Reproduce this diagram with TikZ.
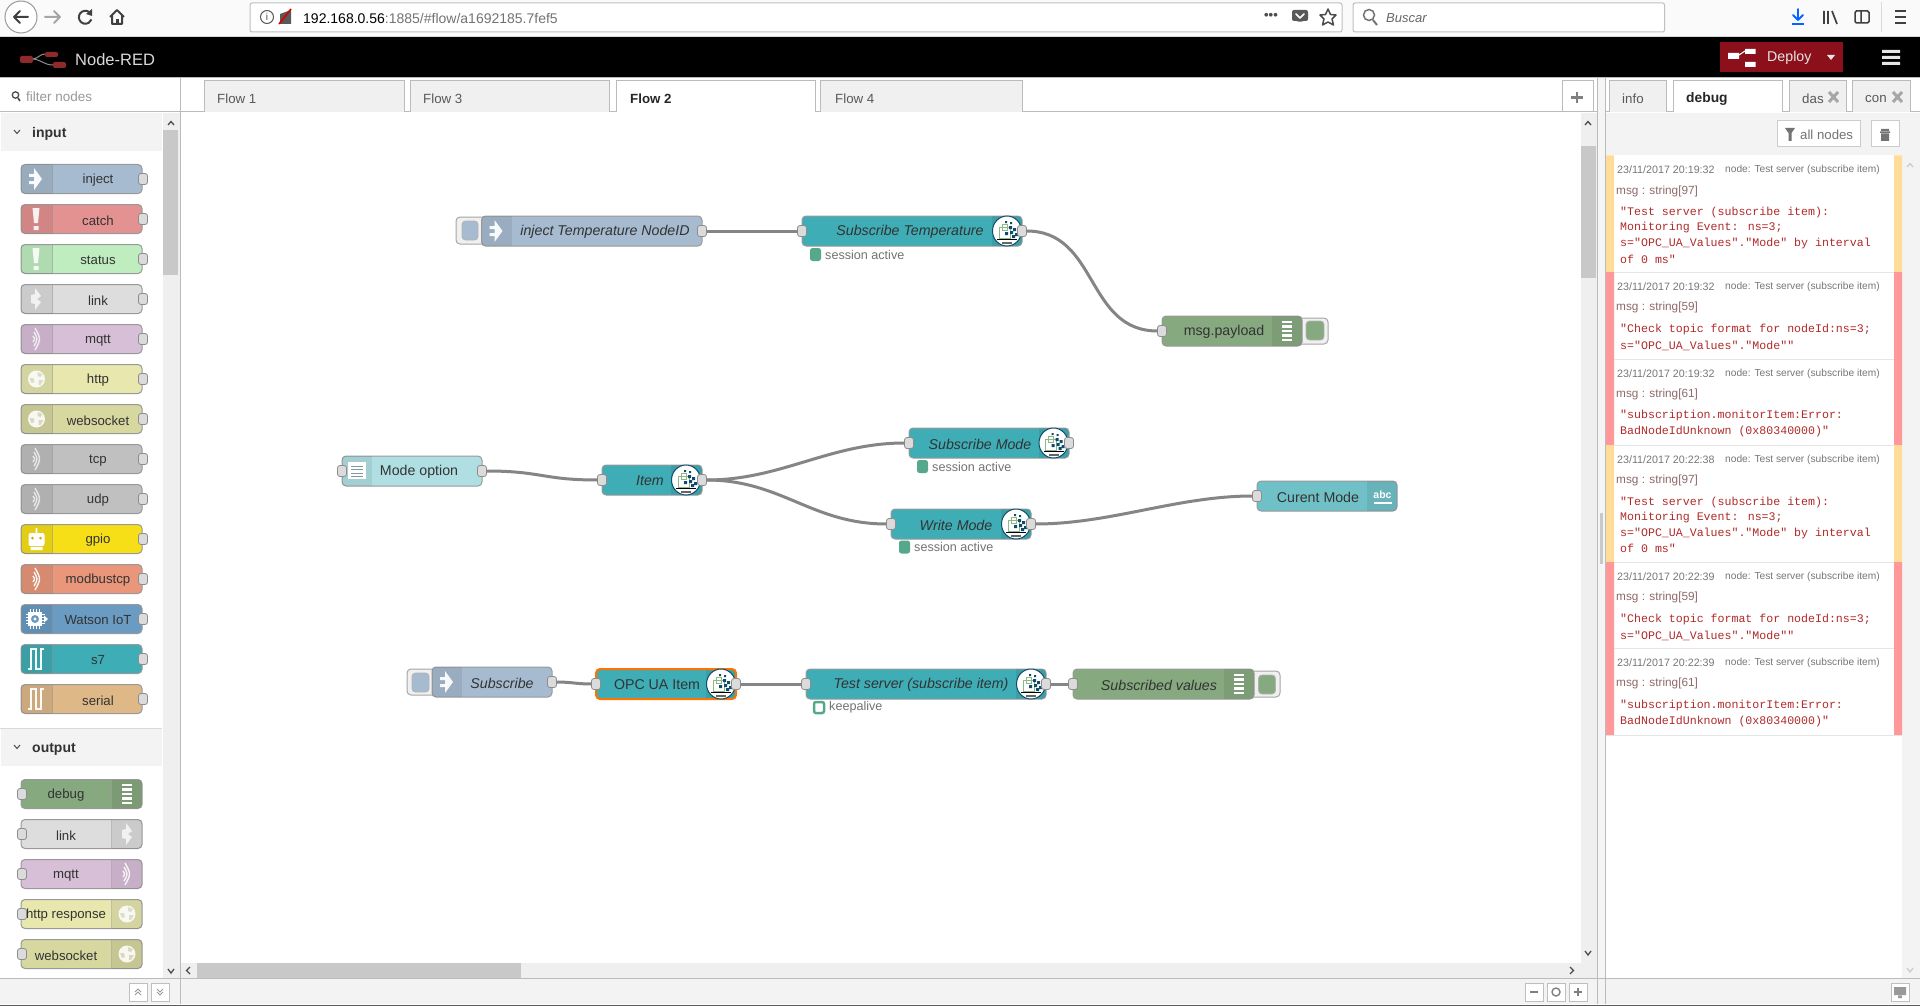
\documentclass[tikz,border=0pt]{standalone}
\usepackage{fontspec}
\setmainfont{Liberation Sans}
\newfontfamily\monof{Liberation Mono}
\usetikzlibrary{calc}
\definecolor{cInject}{HTML}{A6BBCF}
\definecolor{cCatch}{HTML}{E49191}
\definecolor{cStatus}{HTML}{C0EDC0}
\definecolor{cLink}{HTML}{DDDDDD}
\definecolor{cMqtt}{HTML}{D8BFD8}
\definecolor{cHttp}{HTML}{E7E7AE}
\definecolor{cWs}{HTML}{D7D7A0}
\definecolor{cTcp}{HTML}{C0C0C0}
\definecolor{cGpio}{HTML}{F7DF17}
\definecolor{cModbus}{HTML}{E9967A}
\definecolor{cWatson}{HTML}{6A9BC3}
\definecolor{cS}{HTML}{3FADB5}
\definecolor{cSerial}{HTML}{DEB887}
\definecolor{cDebug}{HTML}{87A980}
\definecolor{cTpl}{HTML}{B0DFE3}
\definecolor{cText}{HTML}{70C0C8}
\definecolor{cBar}{HTML}{F3F3F3}
\definecolor{cLine}{HTML}{BBBBBB}
\definecolor{cThumb}{HTML}{C8C8C8}
\definecolor{cTrack}{HTML}{EFEFEF}
\definecolor{cRed}{HTML}{8C101C}
\definecolor{cLogo}{HTML}{8F2A2A}
\definecolor{cYel}{HTML}{FFDD99}
\definecolor{cPink}{HTML}{FF9999}
\definecolor{cMono}{HTML}{B02A2A}
\definecolor{cMeta}{HTML}{777777}
\definecolor{cMsg}{HTML}{8F6A6A}
\definecolor{cDot}{HTML}{55A98A}
\definecolor{cNavy}{HTML}{0F4C6B}
\definecolor{cOPCg}{HTML}{8DB88A}
\tikzset{
 bodyst/.style={draw=black!40,rounded corners=4pt,line width=1pt,inner sep=0pt,outer sep=0pt},
 portst/.style={draw=black!45,fill=black!14,rounded corners=2.5pt,line width=.8pt,minimum width=9pt,minimum height=11pt,inner sep=0pt,outer sep=0pt},
 wirest/.style={draw=black!48,line width=3pt},
 wirebend/.style={out=0,in=180,out distance=#1,in distance=#1},
 labelst/.style={text=black!80,inner sep=0pt,outer sep=0pt,yshift=-1.5pt,font=\fontsize{13.2}{15}\selectfont},
 flowlab/.style={text=black!80,inner sep=0pt,outer sep=0pt,yshift=-1pt,font=\fontsize{14.2}{16}\selectfont},
 tabst/.style={draw=cLine,fill=#1,line width=1pt},
 tablab/.style={text=black!65,inner sep=0pt,anchor=west,yshift=-1.5pt,font=\fontsize{13.3}{15}\selectfont},
 dotst/.style={fill=cDot,rounded corners=2.5pt,minimum width=11pt,minimum height=13pt,inner sep=0pt},
 stattext/.style={text=black!55,anchor=west,inner sep=0pt,font=\fontsize{12.6}{14}\selectfont},
 meta/.style={text=cMeta,anchor=west,inner sep=0pt,yshift=-1.5pt,font=\fontsize{10.7}{12}\selectfont},
 metan/.style={text=cMeta,anchor=west,inner sep=0pt,yshift=-1.5pt,font=\fontsize{10.2}{12}\selectfont},
 msgt/.style={text=cMsg,anchor=west,inner sep=0pt,yshift=-2.5pt,font=\fontsize{11.8}{13}\selectfont},
 mono/.style={text=cMono,anchor=west,inner sep=0pt,yshift=-1.5pt,font=\monof\fontsize{11.6}{13}\selectfont},
 smallbtn/.style={draw=black!25,fill=white,line width=1pt,inner sep=0pt,minimum width=18pt,minimum height=18pt},
}
% ---- icons, all given by their centre
\newcommand\icinject[2]{\begin{scope}[shift={(#1,#2)}]\fill[white,opacity=.92] (-7,-5) rectangle (-1,-2) (-7,2) rectangle (-1,5);\fill[white,opacity=.92] (-2,-11)--(6,0)--(-2,11)--cycle;\end{scope}}
\newcommand\icbang[2]{\begin{scope}[shift={(#1,#2)}]\fill[white,opacity=.88] (-3.5,-11)--(3.5,-11)--(2,4)--(-2,4)--cycle (-2.5,7) rectangle (2.5,11);\end{scope}}
\newcommand\iclink[2]{\begin{scope}[shift={(#1,#2)}]\fill[white,opacity=.75] (-1,-11)--(5,-3)--(1,0)--(5,3)--(-1,11)--(-1,5)--(-5,4)--(-5,-4)--(-1,-5)--cycle;\end{scope}}
\newcommand\icwave[3]{\begin{scope}[shift={(#1,#2)},white,opacity=#3,line width=1.4pt]\draw (-3,-3) .. controls (-1,0) .. (-3,3);\draw (-2,-7) .. controls (2,0) .. (-2,7);\draw (-1,-11) .. controls (5,0) .. (-1,11);\end{scope}}
\newcommand\icglobe[3]{\begin{scope}[shift={(#1,#2)}]\fill[white,opacity=.88] (0,0) circle (8.5);\fill[#3,opacity=.32] (1,-7) -- (6,-5) -- (4,-2) -- (1,-3) -- cycle (2,1) -- (7,1) -- (4,6) -- (2,6) -- cycle (-7,-1) -- (-3,-1) -- (-2,3) -- (-5,4) -- cycle;\end{scope}}
\newcommand\icbot[2]{\begin{scope}[shift={(#1,#2)}]\fill[white] (-8,-6) [rounded corners=2pt] rectangle (8,7);\fill[white] (-.8,-11) rectangle (.8,-6) (-6,8) rectangle (6,11);\fill[cGpio!80!black] (-4,-1) circle (1.5) (4,-1) circle (1.5);\end{scope}}
\newcommand\icchip[2]{\begin{scope}[shift={(#1,#2)}]\foreach \t in {-4.5,-1.5,1.5,4.5}{\fill[white] (-9.5,\t-.6) rectangle (9.5,\t+.6);\fill[white] (\t-.6,-10) rectangle (\t+.6,10);}\fill[white] (-7,-7) rectangle (7,7);\fill[cWatson] (0,0) circle (4);\fill[white] (0,0) circle (1.6);\fill[white] (9,-3.5)--(13,0)--(9,3.5)--cycle;\end{scope}}
\newcommand\icsq[2]{\begin{scope}[shift={(#1,#2)}]\draw[white,line width=2pt,opacity=.95,line join=miter] (-8,10)--(-5,10)--(-5,-10)--(0,-10)--(0,10)--(5,10)--(5,-10)--(8,-10);\end{scope}}
\newcommand\icdbg[2]{\begin{scope}[shift={(#1,#2)}]\foreach \t in {-9,-4.5,0,4.5,9}{\fill[white] (-4.7,\t-1.2) rectangle (4.7,\t+1.2);}\end{scope}}
\newcommand\icopc[2]{\begin{scope}[shift={(#1,#2)}]\fill[white] (0,0) ellipse (14.5 and 15);\draw[cNavy,line width=1pt] (0,0) ellipse (14.5 and 15);
 \draw[cOPCg,line width=1pt] (-8,-4) rectangle (3,7);\draw[cOPCg,line width=1pt] (-5,-7) rectangle (0,-1);
 \fill[cNavy] (2,-5) rectangle (5,-2) (6,-3) rectangle (9,0) (3,0) rectangle (6,3) (8,2) rectangle (11,5) (5,4) rectangle (8,7) (-2,-10) rectangle (0,-8) (3,-9) rectangle (5,-7) (-2,1) rectangle (1,4);
 \fill[black] (-10,8) rectangle (10,9);\fill[black!60] (-5,11) rectangle (5,12.5);\end{scope}}
% ---- palette nodes
\newcommand\pbody[6]{% name,y,colour,section x0,section x1
 \node[bodyst,fill=#3,minimum width=121pt,minimum height=29pt] (#1) at (81.5,#2) {};
 \begin{scope}\clip[rounded corners=4pt] (21,#2-14.5) rectangle (142,#2+14.5);\fill[black,opacity=.08] (#4,#2-14.5) rectangle (#5,#2+14.5);\end{scope}
 \draw[black!40,opacity=.5,line width=.6pt] (#6,#2-14.5) -- (#6,#2+14.5);}
\newcommand\palin[4]{\pbody{#1}{#2}{#3}{21}{52.5}{52.5}\node[labelst] (#1-t) at (98,#2) {#4};\node[portst] (#1-o) at (143,#2) {};}
\newcommand\palout[4]{\pbody{#1}{#2}{#3}{111.5}{142}{111.5}\node[labelst] (#1-t) at (66,#2) {#4};\node[portst] (#1-i) at (22,#2) {};}
% ---- flow nodes: name,x0,x1,yc,h,colour,section x0,section x1,text x,text
\newcommand\fnode[9]{%
 \node[bodyst,fill=#6,minimum width={(#3-#2)*1pt},minimum height={#5*1pt}] (#1) at ({(#2+#3)/2},#4) {};
 \begin{scope}\clip[rounded corners=4pt] (#2,#4-#5/2) rectangle (#3,#4+#5/2);\fill[black,opacity=.07] (#7,#4-#5/2) rectangle (#8,#4+#5/2);\end{scope}
 \node[flowlab] (#1-t) at (#9,#4) }
\newcommand\stat[4]{\node[dotst] (#1) at (#2+5.5,#3) {};\node[stattext] (#1-t) at (#2+15,#3) {#4};}
% ---- debug message
\newcommand\dbgmsg[6]{% name,top,bottom,colour,time,msg head
 \fill[#4] (1606,#2) rectangle (1614,#3) (1894,#2) rectangle (1902,#3);
 \draw[black!10,line width=1pt] (1606,#3) -- (1902,#3);
 \node[meta] (#1-d) at (1617,#2+13) {#5};
 \node[metan] (#1-n) at (1725,#2+13) {node: Test server (subscribe item)};
 \node[msgt] (#1-m) at (1616,#2+33) {#6};}
\begin{document}
\begin{tikzpicture}[x=1pt,y=-1pt]
\useasboundingbox (0,0) rectangle (1920,1006);
\fill[white] (0,0) rectangle (1920,1006);
%% ============ browser bar
\fill[black!2] (0,0) rectangle (1920,37);
\draw[black!15,line width=1pt] (0,37) -- (1920,37);
\node[draw=black!40,fill=white,circle,minimum size=32pt,inner sep=0pt,line width=1pt] (backbtn) at (21,17) {};
\draw[black!75,line width=2pt,line cap=round,line join=round] (14,17) -- (28,17) (20,11) -- (14,17) -- (20,23);
\draw[black!35,line width=2pt,line cap=round,line join=round] (45,17) -- (60,17) (54,11) -- (60,17) -- (54,23);
\draw[black!75,line width=2pt] (91,14) arc (-30:-340:6.5);
\fill[black!75] (92,9) -- (92,16) -- (86,14) -- cycle;
\draw[black!75,line width=2pt,line join=round] (110,17) -- (117,10) -- (124,17) (112,15) -- (112,24) -- (122,24) -- (122,15);
\fill[black!75] (116,19) rectangle (119,24);
\draw[black!25,fill=white,rounded corners=2pt,line width=1pt] (250,3) rectangle (1342,32);
\node[draw=black!65,circle,minimum size=13pt,inner sep=0pt,line width=1pt,font=\fontsize{10}{10}\selectfont,text=black!70] (infoic) at (267,17) {i};
\fill[black!65] (280,24) -- (280,14) -- (291,10) -- (291,24) -- cycle;
\draw[red!85!black,line width=1.6pt] (279,24) -- (291,9);
\node[anchor=west,inner sep=0pt,yshift=-.5pt,font=\fontsize{14}{15}\selectfont] (urltxt) at (303,18) {192.168.0.56\textcolor{black!55}{:1885/\#flow/a1692185.7fef5}};
\node[font=\fontsize{13}{13}\selectfont\bfseries,text=black!70,inner sep=0pt] (dotsic) at (1271,16) {•••};
\fill[black!65,rounded corners=2pt] (1292,10) rectangle (1308,21);
\fill[black!65] (1292,15) .. controls (1293,24) and (1307,24) .. (1308,15) -- cycle;
\draw[white,line width=1.5pt,line cap=round,line join=round] (1296,14) -- (1300,18) -- (1304,14);
\draw[black!70,line width=1.5pt,line join=round] (1328,9) -- (1330.5,14.5) -- (1336,15) -- (1332,19) -- (1333.5,25) -- (1328,22) -- (1322.5,25) -- (1324,19) -- (1320,15) -- (1325.5,14.5) -- cycle;
\draw[black!25,fill=white,rounded corners=2pt,line width=1pt] (1353,3) rectangle (1664.5,32);
\draw[black!55,line width=1.5pt] (1369,15) circle (5.5);
\draw[black!55,line width=2pt] (1373,20) -- (1377,25);
\node[anchor=west,inner sep=0pt,text=black!60,font=\fontsize{13}{15}\selectfont\itshape] (searchtxt) at (1386,18) {Buscar};
\draw[blue!60!cyan,line width=1.8pt,line cap=round,line join=round] (1798,9) -- (1798,20) (1793,15) -- (1798,20) -- (1803,15);
\draw[blue!60!cyan,line width=2pt] (1792,24.5) -- (1804,24.5);
\draw[black!75,line width=1.7pt] (1824,11) -- (1824,24) (1828,11) -- (1828,24) (1832,11) -- (1837,24);
\draw[black!75,line width=1.5pt,rounded corners=1.5pt] (1855,11) rectangle (1869,23) (1861,11) -- (1861,23);
\draw[black!15,line width=1pt] (1881,2) -- (1881,32);
\draw[black!75,line width=2pt] (1895,11) -- (1906,11) (1895,17) -- (1906,17) (1895,23) -- (1906,23);
%% ============ Node-RED header
\fill[black] (0,37) rectangle (1920,77);
\fill[cLogo,rounded corners=2pt] (20,56) rectangle (33,63) (45,52) rectangle (58,57) (53,62) rectangle (66,68);
\draw[black!45,line width=1pt] (33,59) .. controls (39,58) and (40,54) .. (45,54) (33,59) .. controls (42,60) and (44,65) .. (53,65);
\node[anchor=west,inner sep=0pt,yshift=-1pt,text=black!15,font=\fontsize{16.5}{18}\selectfont] (brand) at (75,59) {Node-RED};
\fill[cRed] (1720,42) rectangle (1843,72);
\fill[white] (1728,53) rectangle (1739,59) (1745,49) rectangle (1755.5,54) (1745,62) rectangle (1755.5,67);
\draw[white,line width=1pt] (1739,55) -- (1745,51);
\node[anchor=west,inner sep=0pt,yshift=-1pt,text=black!10,font=\fontsize{14.2}{16}\selectfont] (deploy) at (1767,57) {Deploy};
\fill[black!10] (1827,55) -- (1835,55) -- (1831,60) -- cycle;
\fill[black!10] (1882,50) rectangle (1900,53) (1882,56) rectangle (1900,59) (1882,62) rectangle (1900,65);
%% ============ left sidebar
\draw[cLine,line width=1pt] (0,112) -- (180,112);
\draw[black!70,line width=1.3pt] (15.5,95) circle (3.2);
\draw[black!70,line width=1.6pt] (18,98) -- (20,101);
\node[anchor=west,inner sep=0pt,text=black!40,yshift=-1pt,font=\fontsize{13.5}{15}\selectfont] (filter) at (26,96) {filter nodes};
\fill[cBar] (1,113) rectangle (162,151);
\draw[black!70,line width=1pt] (14,130) -- (17,133.5) -- (20,130);
\node[anchor=west,inner sep=0pt,text=black!80,yshift=-2pt,font=\fontsize{14}{16}\selectfont\bfseries] (catin) at (32,132) {input};
\fill[cTrack] (163,113) rectangle (179.5,978);
\fill[cThumb] (163,130) rectangle (178,275);
\draw[black!70,line width=1.3pt] (168,125) -- (171,121.5) -- (174,125);
\draw[black!70,line width=1.3pt] (168,969) -- (171,973) -- (174,969);
\draw[black!15,line width=1pt] (0,728) -- (162,728);
\fill[cBar] (1,729) rectangle (162,766);
\draw[black!70,line width=1pt] (14,745) -- (17,748.5) -- (20,745);
\node[anchor=west,inner sep=0pt,text=black!80,yshift=-2pt,font=\fontsize{14}{16}\selectfont\bfseries] (catout) at (32,747) {output};
\palin{inject}{179}{cInject}{inject}\icinject{36}{179}
\palin{catch}{219}{cCatch}{catch}\icbang{36}{219}
\palin{status}{259}{cStatus}{status}\icbang{36}{259}
\palin{linkin}{299}{cLink}{link}\iclink{36}{299}
\palin{mqttin}{339}{cMqtt}{mqtt}\icwave{36}{339}{.75}
\palin{httpin}{379}{cHttp}{http}\icglobe{36.5}{379}{cHttp!70!black}
\palin{wsin}{419}{cWs}{websocket}\icglobe{36.5}{419}{cWs!70!black}
\palin{tcpin}{459}{cTcp}{tcp}\icwave{36}{459}{.7}
\palin{udpin}{499}{cTcp}{udp}\icwave{36}{499}{.7}
\palin{gpio}{539}{cGpio}{gpio}\icbot{36.5}{539}
\palin{modbus}{579}{cModbus}{modbustcp}\icwave{36}{579}{.9}
\palin{watson}{619}{cWatson}{Watson IoT}\icchip{35}{619}
\palin{sseven}{659}{cS}{s7}\icsq{36}{659}
\palin{serial}{699}{cSerial}{serial}\icsq{36}{699}
\palout{debugo}{794}{cDebug}{debug}\icdbg{127}{794}
\palout{linko}{834}{cLink}{link}\iclink{127}{834}
\palout{mqtto}{874}{cMqtt}{mqtt}\icwave{126}{874}{.85}
\palout{httpo}{914}{cHttp}{http response}\icglobe{127}{914}{cHttp!70!black}
\palout{wso}{954}{cWs}{websocket}\icglobe{127}{954}{cWs!70!black}
%% ============ workspace chrome
\draw[cLine,line width=1pt] (0,77.5) -- (1920,77.5);
\draw[cLine,line width=1pt] (180,77) -- (180,1004);
\draw[cLine,line width=1pt] (180,112) -- (1597,112);
\draw[tabst=black!6] (204,112) -- (204,81) -- (404,81) -- (404,112);
\draw[tabst=black!6] (410,112) -- (410,81) -- (609,81) -- (609,112);
\draw[tabst=black!6] (820,112) -- (820,81) -- (1022,81) -- (1022,112);
\fill[white] (616,81) rectangle (815,113);
\draw[cLine,line width=1pt] (616,112) -- (616,81) -- (815,81) -- (815,112);
\node[tablab] (tab1) at (217,97) {Flow 1};
\node[tablab] (tab3) at (423,97) {Flow 3};
\node[tablab,text=black!85,font=\fontsize{13.3}{15}\selectfont\bfseries] (tab2) at (630,97) {Flow 2};
\node[tablab] (tab4) at (835,97) {Flow 4};
\draw[cLine,line width=1pt] (1562,112) -- (1562,81) -- (1593.5,81) -- (1593.5,112);
\draw[black!50,line width=2.6pt] (1571,97.5) -- (1583,97.5) (1577,92) -- (1577,103);
% workspace scrollbars
\fill[cTrack] (1581,113) rectangle (1597,963);
\fill[cThumb] (1581,146) rectangle (1596,278);
\draw[black!70,line width=1.3pt] (1585,125) -- (1588,121.5) -- (1591,125);
\draw[black!70,line width=1.3pt] (1585,951) -- (1588,955) -- (1591,951);
\fill[cTrack] (181,963) rectangle (1597,978);
\fill[cThumb] (197,963) rectangle (521,978);
\draw[black!70,line width=1.3pt] (190,967) -- (186.5,970.5) -- (190,974);
\draw[black!70,line width=1.3pt] (1570,967) -- (1573.5,970.5) -- (1570,974);
\fill[cBar] (0,978) rectangle (1920,1004);
\draw[cLine,line width=1pt] (0,978) -- (1920,978);
\fill[black!65] (0,1004.5) rectangle (1920,1006);
\draw[cLine,line width=1pt] (180,978) -- (180,1004);
\node[smallbtn] (palup) at (138,992) {};
\node[smallbtn] (paldn) at (160,992) {};
\draw[black!40,line width=1pt] (135,992) -- (138,989) -- (141,992) (135,995) -- (138,992) -- (141,995);
\draw[black!40,line width=1pt] (157,989) -- (160,992) -- (163,989) (157,992) -- (160,995) -- (163,992);
\node[smallbtn] (zoomout) at (1534,992) {};
\node[smallbtn] (zoomres) at (1556,992) {};
\node[smallbtn] (zoomin) at (1578,992) {};
\draw[black!50,line width=2.4pt] (1530,992) -- (1538,992) (1574,992) -- (1582,992) (1578,988) -- (1578,996);
\draw[black!50,line width=1.4pt] (1556,992) circle (4);
%% ============ right sidebar
\fill[black!4] (1598,78) rectangle (1605.5,978);
\fill[cThumb] (1600,513) rectangle (1603,564);
\draw[cLine,line width=1pt] (1597.5,77) -- (1597.5,1004);
\draw[cLine,line width=1pt] (1605.5,77) -- (1605.5,1004);
\draw[cLine,line width=1pt] (1606,112) -- (1920,112);
\draw[tabst=black!6] (1609,112) -- (1609,81) -- (1666.5,81) -- (1666.5,112);
\draw[tabst=black!6] (1789,112) -- (1789,81) -- (1846,81) -- (1846,112);
\draw[tabst=black!6] (1852,112) -- (1852,81) -- (1910,81) -- (1910,112);
\fill[white] (1673,81) rectangle (1782.5,113);
\draw[cLine,line width=1pt] (1673,112) -- (1673,81) -- (1782.5,81) -- (1782.5,112);
\node[tablab] (tabinfo) at (1622,97) {info};
\node[tablab,text=black!85,font=\fontsize{13.8}{15}\selectfont\bfseries] (tabdebug) at (1686,97) {debug};
\node[tablab] (tabdash) at (1802,97) {das};
\node[tablab] (tabconf) at (1865,97) {con};
\draw[black!35,line width=3pt] (1829,92) -- (1838,102) (1838,92) -- (1829,102) (1893,92) -- (1902,102) (1902,92) -- (1893,102);
\fill[cBar] (1606,113) rectangle (1920,155.5);
\node[draw=black!20,fill=white,line width=1pt,minimum width=83pt,minimum height=26pt,inner sep=0pt] (allnodes) at (1818.5,134) {};
\fill[black!55] (1785,128) -- (1795,128) -- (1791.5,133) -- (1791.5,141) -- (1788.5,141) -- (1788.5,133) -- cycle;
\node[anchor=west,inner sep=0pt,text=black!55,font=\fontsize{13.2}{15}\selectfont] (allnodest) at (1800,134.5) {all nodes};
\node[draw=black!20,fill=white,line width=1pt,minimum width=28pt,minimum height=26pt,inner sep=0pt] (trash) at (1885,134) {};
\fill[black!55] (1881,129) rectangle (1889,131) (1880,131.5) rectangle (1890,133) (1881,133.5) rectangle (1889,141);
\fill[cBar] (1902,155.5) rectangle (1920,978);
\draw[black!20,line width=1.3pt] (1907,167) -- (1910,163.5) -- (1913,167);
\draw[black!20,line width=1.3pt] (1907,968) -- (1910,972) -- (1913,968);
\dbgmsg{m1}{155.5}{272}{cYel}{23/11/2017 20:19:32}{msg : string[97]}
\node[mono] (m1a) at (1620,211) {"Test server (subscribe item):};
\node[mono] (m1b) at (1620,226) {Monitoring Event: ns=3;};
\node[mono] (m1c) at (1620,242) {s="OPC\_UA\_Values"."Mode" by interval};
\node[mono] (m1d) at (1620,258) {of 0 ms"};
\dbgmsg{m2}{272}{359}{cPink}{23/11/2017 20:19:32}{msg : string[59]}
\node[mono] (m2a) at (1620,328) {"Check topic format for nodeId:ns=3;};
\node[mono] (m2b) at (1620,344) {s="OPC\_UA\_Values"."Mode""};
\dbgmsg{m3}{359}{445}{cPink}{23/11/2017 20:19:32}{msg : string[61]}
\node[mono] (m3a) at (1620,414) {"subscription.monitorItem:Error:};
\node[mono] (m3b) at (1620,430) {BadNodeIdUnknown (0x80340000)"};
\dbgmsg{m4}{445}{562}{cYel}{23/11/2017 20:22:38}{msg : string[97]}
\node[mono] (m4a) at (1620,501) {"Test server (subscribe item):};
\node[mono] (m4b) at (1620,516) {Monitoring Event: ns=3;};
\node[mono] (m4c) at (1620,532) {s="OPC\_UA\_Values"."Mode" by interval};
\node[mono] (m4d) at (1620,547) {of 0 ms"};
\dbgmsg{m5}{562}{648}{cPink}{23/11/2017 20:22:39}{msg : string[59]}
\node[mono] (m5a) at (1620,618) {"Check topic format for nodeId:ns=3;};
\node[mono] (m5b) at (1620,634) {s="OPC\_UA\_Values"."Mode""};
\dbgmsg{m6}{648}{735}{cPink}{23/11/2017 20:22:39}{msg : string[61]}
\node[mono] (m6a) at (1620,704) {"subscription.monitorItem:Error:};
\node[mono] (m6b) at (1620,720) {BadNodeIdUnknown (0x80340000)"};
\node[smallbtn] (monbtn) at (1900,992) {};
\fill[black!40] (1894,987) rectangle (1906,995) (1898,995.5) rectangle (1902,998);
%% ============ flow nodes
% row 1
\node[draw=black!35,fill=black!6,rounded corners=4pt,line width=1pt,minimum width=33pt,minimum height=27pt,inner sep=0pt] (b1) at (472.5,230.5) {};
\node[draw=black!30,fill=cInject,rounded corners=3.5pt,line width=.8pt,minimum width=16pt,minimum height=19pt,inner sep=0pt] (b1-in) at (470,230.5) {};
\fnode{n1}{481.5}{702}{231}{30}{cInject}{481.5}{512}{605}{\itshape inject Temperature NodeID};
\icinject{496.5}{231}
\node[portst] (n1-o) at (702,231) {};
\fnode{n2}{802}{1022}{231}{30}{cS}{992}{1022}{910}{\itshape Subscribe Temperature};
\icopc{1007}{231}
\node[portst] (n2-i) at (802,231) {};
\node[portst] (n2-o) at (1022,231) {};
\stat{s2}{810}{254.5}{session active}
\node[draw=black!35,fill=black!6,rounded corners=4pt,line width=1pt,minimum width=34pt,minimum height=26pt,inner sep=0pt] (b3) at (1311,331) {};
\node[draw=black!30,fill=cDebug,rounded corners=3.5pt,line width=.8pt,minimum width=18pt,minimum height=19pt,inner sep=0pt] (b3-in) at (1315,330.5) {};
\fnode{n3}{1162}{1302}{331}{30}{cDebug}{1272}{1302}{1224}{msg.payload};
\icdbg{1287}{331}
\node[portst] (n3-i) at (1162,331) {};
% row 2
\fnode{n4}{342}{482}{471}{30}{cTpl}{342}{372}{419}{Mode option};
\fill[white] (348,462) rectangle (366,479);
\draw[cTpl!70!black,line width=.8pt] (351,466) -- (363,466) (351,469.5) -- (363,469.5) (351,473) -- (363,473) (351,476) -- (363,476);
\node[portst] (n4-i) at (342,471) {};
\node[portst] (n4-o) at (482,471) {};
\fnode{n5}{602}{702}{480}{30}{cS}{671}{702}{650}{\itshape Item};
\icopc{686}{480}
\node[portst] (n5-i) at (602,480) {};
\node[portst] (n5-o) at (702,480) {};
\fnode{n6}{909}{1069}{443}{30}{cS}{1038.5}{1069}{980}{\itshape Subscribe Mode};
\icopc{1053.5}{443}
\node[portst] (n6-i) at (909,443) {};
\node[portst] (n6-o) at (1069,443) {};
\stat{s6}{917}{466.5}{session active}
\fnode{n7}{891}{1031}{524}{30}{cS}{1001}{1031}{956}{\itshape Write Mode};
\icopc{1016}{524}
\node[portst] (n7-i) at (891,524) {};
\node[portst] (n7-o) at (1031,524) {};
\stat{s7}{899}{547}{session active}
\fnode{n8}{1257}{1397}{496}{30}{cText}{1367}{1397}{1318}{Curent Mode};
\node[inner sep=0pt,text=white,font=\fontsize{10.5}{12}\selectfont\bfseries] (abc) at (1382.5,494.5) {abc};
\fill[white] (1374,502) rectangle (1392,503.5);
\node[portst] (n8-i) at (1257,496) {};
% row 3
\node[draw=black!35,fill=black!6,rounded corners=4pt,line width=1pt,minimum width=33pt,minimum height=26pt,inner sep=0pt] (b9) at (423.5,682) {};
\node[draw=black!30,fill=cInject,rounded corners=3.5pt,line width=.8pt,minimum width=17pt,minimum height=19pt,inner sep=0pt] (b9-in) at (420.5,682.5) {};
\fnode{n9}{432}{552}{682}{30}{cInject}{432}{462}{502}{\itshape Subscribe};
\icinject{447}{682}
\node[portst] (n9-o) at (552,682) {};
\fnode{n10}{596}{736}{684}{30}{cS}{706}{736}{657}{OPC UA Item};
\draw[orange!90!red,line width=2pt,rounded corners=4pt] (596,669) rectangle (736,699);
\icopc{721}{684}
\node[portst] (n10-i) at (596,684) {};
\node[portst] (n10-o) at (736,684) {};
\fnode{n11}{806}{1046}{684}{30}{cS}{1016}{1046}{921}{\itshape Test server (subscribe item)};
\icopc{1031}{684}
\node[portst] (n11-i) at (806,684) {};
\node[portst] (n11-o) at (1046,684) {};
\node[fill=white,draw=cDot,line width=2.5pt,rounded corners=2pt,minimum width=10pt,minimum height=11pt,inner sep=0pt] (s11) at (819,707.5) {};
\node[stattext] (s11-t) at (829,707.5) {keepalive};
\node[draw=black!35,fill=black!6,rounded corners=4pt,line width=1pt,minimum width=34pt,minimum height=26pt,inner sep=0pt] (b12) at (1263,684) {};
\node[draw=black!30,fill=cDebug,rounded corners=3.5pt,line width=.8pt,minimum width=17pt,minimum height=19pt,inner sep=0pt] (b12-in) at (1267,684.5) {};
\fnode{n12}{1073}{1254}{684}{30}{cDebug}{1224}{1254}{1159}{\itshape Subscribed values};
\icdbg{1239}{684}
\node[portst] (n12-i) at (1073,684) {};
%% ============ wires
\draw[wirest] (n1-o.east) to[wirebend=30pt] (n2-i.west);
\draw[wirest] (n2-o.east) to[wirebend=72pt] (n3-i.west);
\draw[wirest] (n4-o.east) to[wirebend=55pt] (n5-i.west);
\draw[wirest] (n5-o.east) to[wirebend=75pt] (n6-i.west);
\draw[wirest] (n5-o.east) to[wirebend=75pt] (n7-i.west);
\draw[wirest] (n7-o.east) to[wirebend=75pt] (n8-i.west);
\draw[wirest] (n9-o.east) to[wirebend=15pt] (n10-i.west);
\draw[wirest] (n10-o.east) to[wirebend=20pt] (n11-i.west);
\draw[wirest] (n11-o.east) to[wirebend=6pt] (n12-i.west);
\end{tikzpicture}
\end{document}
